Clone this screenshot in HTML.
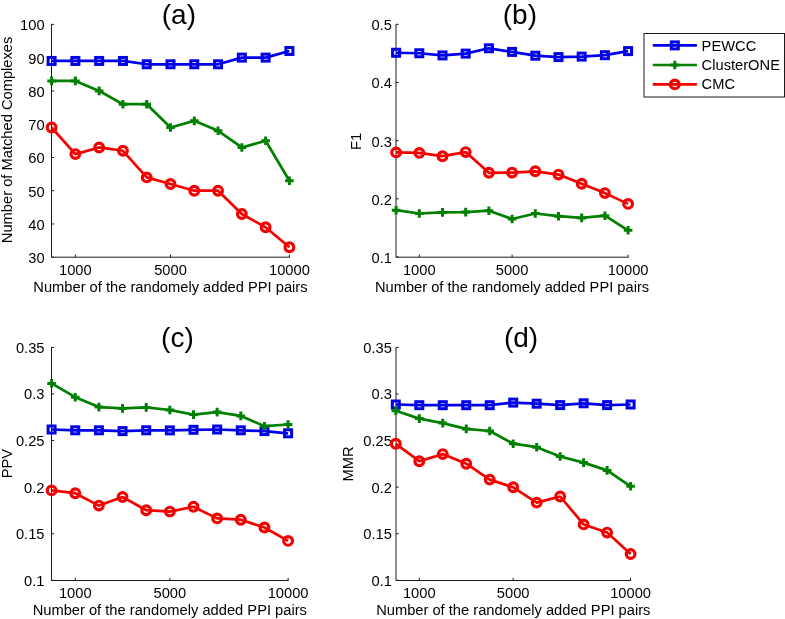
<!DOCTYPE html>
<html><head><meta charset="utf-8"><style>
html,body{margin:0;padding:0;background:#fff;}
svg{display:block;will-change:transform;}
text{font-family:"Liberation Sans",sans-serif;font-size:14.7px;fill:#000;}
</style></head><body>
<svg width="785" height="619" viewBox="0 0 785 619">
<path d="M51.5 24.35V257.2H289.9" fill="none" stroke="#1a1a1a" stroke-width="1"/>
<path d="M51.5 257.25h2.6 M51.5 223.98h2.6 M51.5 190.71h2.6 M51.5 157.44h2.6 M51.5 124.16h2.6 M51.5 90.89h2.6 M51.5 57.62h2.6 M51.5 24.35h2.6 M75.38 257.2v-2.6 M170.5 257.2v-2.6 M289.4 257.2v-2.6" stroke="#1a1a1a" stroke-width="1" fill="none"/>
<text x="44.6" y="263.25" text-anchor="end">30</text>
<text x="44.6" y="229.98" text-anchor="end">40</text>
<text x="44.6" y="196.71" text-anchor="end">50</text>
<text x="44.6" y="163.44" text-anchor="end">60</text>
<text x="44.6" y="130.16" text-anchor="end">70</text>
<text x="44.6" y="96.89" text-anchor="end">80</text>
<text x="44.6" y="63.62" text-anchor="end">90</text>
<text x="44.6" y="30.35" text-anchor="end">100</text>
<text x="75.38" y="274.7" text-anchor="middle">1000</text>
<text x="170.5" y="274.7" text-anchor="middle">5000</text>
<text x="289.4" y="274.7" text-anchor="middle">10000</text>
<text x="170.45" y="292.1" text-anchor="middle">Number of the randomely added PPI pairs</text>
<text transform="translate(12.3 139.9) rotate(-90)" text-anchor="middle">Number of Matched Complexes</text>
<text x="178.9" y="24" text-anchor="middle" style="font-size:28px">(a)</text>
<polyline points="51.6,60.95 75.38,60.95 99.16,60.95 122.94,60.95 146.72,64.28 170.5,64.28 194.28,64.28 218.06,64.28 241.84,57.62 265.62,57.62 289.4,50.97" fill="none" stroke="#0000ea" stroke-width="2.7" stroke-linejoin="round"/>
<rect x="48.1" y="57.45" width="7" height="7" fill="none" stroke="#0000ea" stroke-width="3"/><rect x="71.88" y="57.45" width="7" height="7" fill="none" stroke="#0000ea" stroke-width="3"/><rect x="95.66" y="57.45" width="7" height="7" fill="none" stroke="#0000ea" stroke-width="3"/><rect x="119.44" y="57.45" width="7" height="7" fill="none" stroke="#0000ea" stroke-width="3"/><rect x="143.22" y="60.78" width="7" height="7" fill="none" stroke="#0000ea" stroke-width="3"/><rect x="167" y="60.78" width="7" height="7" fill="none" stroke="#0000ea" stroke-width="3"/><rect x="190.78" y="60.78" width="7" height="7" fill="none" stroke="#0000ea" stroke-width="3"/><rect x="214.56" y="60.78" width="7" height="7" fill="none" stroke="#0000ea" stroke-width="3"/><rect x="238.34" y="54.12" width="7" height="7" fill="none" stroke="#0000ea" stroke-width="3"/><rect x="262.12" y="54.12" width="7" height="7" fill="none" stroke="#0000ea" stroke-width="3"/><rect x="285.9" y="47.47" width="7" height="7" fill="none" stroke="#0000ea" stroke-width="3"/>
<polyline points="51.6,80.91 75.38,80.91 99.16,90.89 122.94,104.2 146.72,104.2 170.5,127.49 194.28,120.84 218.06,130.82 241.84,147.45 265.62,140.8 289.4,180.73" fill="none" stroke="#008000" stroke-width="2.7" stroke-linejoin="round"/>
<path d="M47.3 80.91H55.9M51.6 76.61V85.21" stroke="#008000" stroke-width="3" fill="none"/><path d="M71.08 80.91H79.68M75.38 76.61V85.21" stroke="#008000" stroke-width="3" fill="none"/><path d="M94.86 90.89H103.46M99.16 86.59V95.19" stroke="#008000" stroke-width="3" fill="none"/><path d="M118.64 104.2H127.24M122.94 99.9V108.5" stroke="#008000" stroke-width="3" fill="none"/><path d="M142.42 104.2H151.02M146.72 99.9V108.5" stroke="#008000" stroke-width="3" fill="none"/><path d="M166.2 127.49H174.8M170.5 123.19V131.79" stroke="#008000" stroke-width="3" fill="none"/><path d="M189.98 120.84H198.58M194.28 116.54V125.14" stroke="#008000" stroke-width="3" fill="none"/><path d="M213.76 130.82H222.36M218.06 126.52V135.12" stroke="#008000" stroke-width="3" fill="none"/><path d="M237.54 147.45H246.14M241.84 143.15V151.75" stroke="#008000" stroke-width="3" fill="none"/><path d="M261.32 140.8H269.92M265.62 136.5V145.1" stroke="#008000" stroke-width="3" fill="none"/><path d="M285.1 180.73H293.7M289.4 176.43V185.03" stroke="#008000" stroke-width="3" fill="none"/>
<polyline points="51.6,127.49 75.38,154.11 99.16,147.45 122.94,150.78 146.72,177.4 170.5,184.05 194.28,190.71 218.06,190.71 241.84,214 265.62,227.31 289.4,247.27" fill="none" stroke="#f40000" stroke-width="2.7" stroke-linejoin="round"/>
<circle cx="51.6" cy="127.49" r="4.35" fill="none" stroke="#f40000" stroke-width="3.2"/><circle cx="75.38" cy="154.11" r="4.35" fill="none" stroke="#f40000" stroke-width="3.2"/><circle cx="99.16" cy="147.45" r="4.35" fill="none" stroke="#f40000" stroke-width="3.2"/><circle cx="122.94" cy="150.78" r="4.35" fill="none" stroke="#f40000" stroke-width="3.2"/><circle cx="146.72" cy="177.4" r="4.35" fill="none" stroke="#f40000" stroke-width="3.2"/><circle cx="170.5" cy="184.05" r="4.35" fill="none" stroke="#f40000" stroke-width="3.2"/><circle cx="194.28" cy="190.71" r="4.35" fill="none" stroke="#f40000" stroke-width="3.2"/><circle cx="218.06" cy="190.71" r="4.35" fill="none" stroke="#f40000" stroke-width="3.2"/><circle cx="241.84" cy="214" r="4.35" fill="none" stroke="#f40000" stroke-width="3.2"/><circle cx="265.62" cy="227.31" r="4.35" fill="none" stroke="#f40000" stroke-width="3.2"/><circle cx="289.4" cy="247.27" r="4.35" fill="none" stroke="#f40000" stroke-width="3.2"/>
<path d="M396 24.3V257.2H628.6" fill="none" stroke="#1a1a1a" stroke-width="1"/>
<path d="M396 257h2.6 M396 198.82h2.6 M396 140.65h2.6 M396 82.47h2.6 M396 24.3h2.6 M419.3 257.2v-2.6 M512.1 257.2v-2.6 M628.1 257.2v-2.6" stroke="#1a1a1a" stroke-width="1" fill="none"/>
<text x="391.9" y="263" text-anchor="end">0.1</text>
<text x="391.9" y="204.82" text-anchor="end">0.2</text>
<text x="391.9" y="146.65" text-anchor="end">0.3</text>
<text x="391.9" y="88.47" text-anchor="end">0.4</text>
<text x="391.9" y="30.3" text-anchor="end">0.5</text>
<text x="419.3" y="274.7" text-anchor="middle">1000</text>
<text x="512.1" y="274.7" text-anchor="middle">5000</text>
<text x="628.1" y="274.7" text-anchor="middle">10000</text>
<text x="512.05" y="292.1" text-anchor="middle">Number of the randomely added PPI pairs</text>
<text transform="translate(361 141.5) rotate(-90)" text-anchor="middle">F1</text>
<text x="519.9" y="23.9" text-anchor="middle" style="font-size:28px">(b)</text>
<polyline points="396.1,52.75 419.3,53.25 442.5,55.4 465.7,53.6 488.9,48.3 512.1,51.9 535.3,55.7 558.5,57.1 581.7,56.6 604.9,55.2 628.1,51.1" fill="none" stroke="#0000ea" stroke-width="2.7" stroke-linejoin="round"/>
<rect x="392.6" y="49.25" width="7" height="7" fill="none" stroke="#0000ea" stroke-width="3"/><rect x="415.8" y="49.75" width="7" height="7" fill="none" stroke="#0000ea" stroke-width="3"/><rect x="439" y="51.9" width="7" height="7" fill="none" stroke="#0000ea" stroke-width="3"/><rect x="462.2" y="50.1" width="7" height="7" fill="none" stroke="#0000ea" stroke-width="3"/><rect x="485.4" y="44.8" width="7" height="7" fill="none" stroke="#0000ea" stroke-width="3"/><rect x="508.6" y="48.4" width="7" height="7" fill="none" stroke="#0000ea" stroke-width="3"/><rect x="531.8" y="52.2" width="7" height="7" fill="none" stroke="#0000ea" stroke-width="3"/><rect x="555" y="53.6" width="7" height="7" fill="none" stroke="#0000ea" stroke-width="3"/><rect x="578.2" y="53.1" width="7" height="7" fill="none" stroke="#0000ea" stroke-width="3"/><rect x="601.4" y="51.7" width="7" height="7" fill="none" stroke="#0000ea" stroke-width="3"/><rect x="624.6" y="47.6" width="7" height="7" fill="none" stroke="#0000ea" stroke-width="3"/>
<polyline points="396.1,210.2 419.3,213.5 442.5,212.4 465.7,212.1 488.9,210.7 512.1,219 535.3,213.5 558.5,216.2 581.7,217.9 604.9,215.7 628.1,230.3" fill="none" stroke="#008000" stroke-width="2.7" stroke-linejoin="round"/>
<path d="M391.8 210.2H400.4M396.1 205.9V214.5" stroke="#008000" stroke-width="3" fill="none"/><path d="M415 213.5H423.6M419.3 209.2V217.8" stroke="#008000" stroke-width="3" fill="none"/><path d="M438.2 212.4H446.8M442.5 208.1V216.7" stroke="#008000" stroke-width="3" fill="none"/><path d="M461.4 212.1H470M465.7 207.8V216.4" stroke="#008000" stroke-width="3" fill="none"/><path d="M484.6 210.7H493.2M488.9 206.4V215" stroke="#008000" stroke-width="3" fill="none"/><path d="M507.8 219H516.4M512.1 214.7V223.3" stroke="#008000" stroke-width="3" fill="none"/><path d="M531 213.5H539.6M535.3 209.2V217.8" stroke="#008000" stroke-width="3" fill="none"/><path d="M554.2 216.2H562.8M558.5 211.9V220.5" stroke="#008000" stroke-width="3" fill="none"/><path d="M577.4 217.9H586M581.7 213.6V222.2" stroke="#008000" stroke-width="3" fill="none"/><path d="M600.6 215.7H609.2M604.9 211.4V220" stroke="#008000" stroke-width="3" fill="none"/><path d="M623.8 230.3H632.4M628.1 226V234.6" stroke="#008000" stroke-width="3" fill="none"/>
<polyline points="396.1,152.4 419.3,152.9 442.5,156.2 465.7,152.1 488.9,172.8 512.1,172.6 535.3,171.3 558.5,174.6 581.7,183.7 604.9,193.1 628.1,203.9" fill="none" stroke="#f40000" stroke-width="2.7" stroke-linejoin="round"/>
<circle cx="396.1" cy="152.4" r="4.35" fill="none" stroke="#f40000" stroke-width="3.2"/><circle cx="419.3" cy="152.9" r="4.35" fill="none" stroke="#f40000" stroke-width="3.2"/><circle cx="442.5" cy="156.2" r="4.35" fill="none" stroke="#f40000" stroke-width="3.2"/><circle cx="465.7" cy="152.1" r="4.35" fill="none" stroke="#f40000" stroke-width="3.2"/><circle cx="488.9" cy="172.8" r="4.35" fill="none" stroke="#f40000" stroke-width="3.2"/><circle cx="512.1" cy="172.6" r="4.35" fill="none" stroke="#f40000" stroke-width="3.2"/><circle cx="535.3" cy="171.3" r="4.35" fill="none" stroke="#f40000" stroke-width="3.2"/><circle cx="558.5" cy="174.6" r="4.35" fill="none" stroke="#f40000" stroke-width="3.2"/><circle cx="581.7" cy="183.7" r="4.35" fill="none" stroke="#f40000" stroke-width="3.2"/><circle cx="604.9" cy="193.1" r="4.35" fill="none" stroke="#f40000" stroke-width="3.2"/><circle cx="628.1" cy="203.9" r="4.35" fill="none" stroke="#f40000" stroke-width="3.2"/>
<path d="M51.5 347.4V580.5H288.6" fill="none" stroke="#1a1a1a" stroke-width="1"/>
<path d="M51.5 580.3h2.6 M51.5 533.72h2.6 M51.5 487.14h2.6 M51.5 440.56h2.6 M51.5 393.98h2.6 M51.5 347.4h2.6 M75.25 580.5v-2.6 M169.85 580.5v-2.6 M288.1 580.5v-2.6" stroke="#1a1a1a" stroke-width="1" fill="none"/>
<text x="44.5" y="585.7" text-anchor="end">0.1</text>
<text x="44.5" y="539.12" text-anchor="end">0.15</text>
<text x="44.5" y="492.54" text-anchor="end">0.2</text>
<text x="44.5" y="445.96" text-anchor="end">0.25</text>
<text x="44.5" y="399.38" text-anchor="end">0.3</text>
<text x="44.5" y="352.8" text-anchor="end">0.35</text>
<text x="75.25" y="598" text-anchor="middle">1000</text>
<text x="169.85" y="598" text-anchor="middle">5000</text>
<text x="288.1" y="598" text-anchor="middle">10000</text>
<text x="169.8" y="615.4" text-anchor="middle">Number of the randomely added PPI pairs</text>
<text transform="translate(12.1 463.6) rotate(-90)" text-anchor="middle">PPV</text>
<text x="177.4" y="347.3" text-anchor="middle" style="font-size:28px">(c)</text>
<polyline points="51.6,429.5 75.25,430.3 98.9,430.3 122.55,431.1 146.2,430.3 169.85,430.4 193.5,429.8 217.15,429.5 240.8,430.3 264.45,431.1 288.1,433.3" fill="none" stroke="#0000ea" stroke-width="2.7" stroke-linejoin="round"/>
<rect x="48.1" y="426" width="7" height="7" fill="none" stroke="#0000ea" stroke-width="3"/><rect x="71.75" y="426.8" width="7" height="7" fill="none" stroke="#0000ea" stroke-width="3"/><rect x="95.4" y="426.8" width="7" height="7" fill="none" stroke="#0000ea" stroke-width="3"/><rect x="119.05" y="427.6" width="7" height="7" fill="none" stroke="#0000ea" stroke-width="3"/><rect x="142.7" y="426.8" width="7" height="7" fill="none" stroke="#0000ea" stroke-width="3"/><rect x="166.35" y="426.9" width="7" height="7" fill="none" stroke="#0000ea" stroke-width="3"/><rect x="190" y="426.3" width="7" height="7" fill="none" stroke="#0000ea" stroke-width="3"/><rect x="213.65" y="426" width="7" height="7" fill="none" stroke="#0000ea" stroke-width="3"/><rect x="237.3" y="426.8" width="7" height="7" fill="none" stroke="#0000ea" stroke-width="3"/><rect x="260.95" y="427.6" width="7" height="7" fill="none" stroke="#0000ea" stroke-width="3"/><rect x="284.6" y="429.8" width="7" height="7" fill="none" stroke="#0000ea" stroke-width="3"/>
<polyline points="51.6,383.4 75.25,397.2 98.9,407.1 122.55,408.4 146.2,407.4 169.85,410 193.5,414.6 217.15,412.1 240.8,415.9 264.45,426.2 288.1,424.5" fill="none" stroke="#008000" stroke-width="2.7" stroke-linejoin="round"/>
<path d="M47.3 383.4H55.9M51.6 379.1V387.7" stroke="#008000" stroke-width="3" fill="none"/><path d="M70.95 397.2H79.55M75.25 392.9V401.5" stroke="#008000" stroke-width="3" fill="none"/><path d="M94.6 407.1H103.2M98.9 402.8V411.4" stroke="#008000" stroke-width="3" fill="none"/><path d="M118.25 408.4H126.85M122.55 404.1V412.7" stroke="#008000" stroke-width="3" fill="none"/><path d="M141.9 407.4H150.5M146.2 403.1V411.7" stroke="#008000" stroke-width="3" fill="none"/><path d="M165.55 410H174.15M169.85 405.7V414.3" stroke="#008000" stroke-width="3" fill="none"/><path d="M189.2 414.6H197.8M193.5 410.3V418.9" stroke="#008000" stroke-width="3" fill="none"/><path d="M212.85 412.1H221.45M217.15 407.8V416.4" stroke="#008000" stroke-width="3" fill="none"/><path d="M236.5 415.9H245.1M240.8 411.6V420.2" stroke="#008000" stroke-width="3" fill="none"/><path d="M260.15 426.2H268.75M264.45 421.9V430.5" stroke="#008000" stroke-width="3" fill="none"/><path d="M283.8 424.5H292.4M288.1 420.2V428.8" stroke="#008000" stroke-width="3" fill="none"/>
<polyline points="51.6,490.4 75.25,493.2 98.9,505.6 122.55,497 146.2,510.2 169.85,511.6 193.5,506.8 217.15,518.4 240.8,519.7 264.45,527.5 288.1,540.9" fill="none" stroke="#f40000" stroke-width="2.7" stroke-linejoin="round"/>
<circle cx="51.6" cy="490.4" r="4.35" fill="none" stroke="#f40000" stroke-width="3.2"/><circle cx="75.25" cy="493.2" r="4.35" fill="none" stroke="#f40000" stroke-width="3.2"/><circle cx="98.9" cy="505.6" r="4.35" fill="none" stroke="#f40000" stroke-width="3.2"/><circle cx="122.55" cy="497" r="4.35" fill="none" stroke="#f40000" stroke-width="3.2"/><circle cx="146.2" cy="510.2" r="4.35" fill="none" stroke="#f40000" stroke-width="3.2"/><circle cx="169.85" cy="511.6" r="4.35" fill="none" stroke="#f40000" stroke-width="3.2"/><circle cx="193.5" cy="506.8" r="4.35" fill="none" stroke="#f40000" stroke-width="3.2"/><circle cx="217.15" cy="518.4" r="4.35" fill="none" stroke="#f40000" stroke-width="3.2"/><circle cx="240.8" cy="519.7" r="4.35" fill="none" stroke="#f40000" stroke-width="3.2"/><circle cx="264.45" cy="527.5" r="4.35" fill="none" stroke="#f40000" stroke-width="3.2"/><circle cx="288.1" cy="540.9" r="4.35" fill="none" stroke="#f40000" stroke-width="3.2"/>
<path d="M396 347.4V580.5H631.1" fill="none" stroke="#1a1a1a" stroke-width="1"/>
<path d="M396 580.3h2.6 M396 533.72h2.6 M396 487.14h2.6 M396 440.56h2.6 M396 393.98h2.6 M396 347.4h2.6 M419.28 580.5v-2.6 M513.2 580.5v-2.6 M630.6 580.5v-2.6" stroke="#1a1a1a" stroke-width="1" fill="none"/>
<text x="391.9" y="585.7" text-anchor="end">0.1</text>
<text x="391.9" y="539.12" text-anchor="end">0.15</text>
<text x="391.9" y="492.54" text-anchor="end">0.2</text>
<text x="391.9" y="445.96" text-anchor="end">0.25</text>
<text x="391.9" y="399.38" text-anchor="end">0.3</text>
<text x="391.9" y="352.8" text-anchor="end">0.35</text>
<text x="419.28" y="598" text-anchor="middle">1000</text>
<text x="513.2" y="598" text-anchor="middle">5000</text>
<text x="630.6" y="598" text-anchor="middle">10000</text>
<text x="513.3" y="615.4" text-anchor="middle">Number of the randomely added PPI pairs</text>
<text transform="translate(353 464) rotate(-90)" text-anchor="middle">MMR</text>
<text x="521.1" y="347.3" text-anchor="middle" style="font-size:28px">(d)</text>
<polyline points="395.8,404.5 419.28,405.2 442.76,405.2 466.24,405.2 489.72,405.2 513.2,402.6 536.68,403.7 560.16,405.1 583.64,403.3 607.12,405.1 630.6,404.5" fill="none" stroke="#0000ea" stroke-width="2.7" stroke-linejoin="round"/>
<rect x="392.3" y="401" width="7" height="7" fill="none" stroke="#0000ea" stroke-width="3"/><rect x="415.78" y="401.7" width="7" height="7" fill="none" stroke="#0000ea" stroke-width="3"/><rect x="439.26" y="401.7" width="7" height="7" fill="none" stroke="#0000ea" stroke-width="3"/><rect x="462.74" y="401.7" width="7" height="7" fill="none" stroke="#0000ea" stroke-width="3"/><rect x="486.22" y="401.7" width="7" height="7" fill="none" stroke="#0000ea" stroke-width="3"/><rect x="509.7" y="399.1" width="7" height="7" fill="none" stroke="#0000ea" stroke-width="3"/><rect x="533.18" y="400.2" width="7" height="7" fill="none" stroke="#0000ea" stroke-width="3"/><rect x="556.66" y="401.6" width="7" height="7" fill="none" stroke="#0000ea" stroke-width="3"/><rect x="580.14" y="399.8" width="7" height="7" fill="none" stroke="#0000ea" stroke-width="3"/><rect x="603.62" y="401.6" width="7" height="7" fill="none" stroke="#0000ea" stroke-width="3"/><rect x="627.1" y="401" width="7" height="7" fill="none" stroke="#0000ea" stroke-width="3"/>
<polyline points="395.8,410.7 419.28,418.6 442.76,423.1 466.24,428.9 489.72,431 513.2,443.7 536.68,447.2 560.16,456.5 583.64,462.6 607.12,470.4 630.6,486.3" fill="none" stroke="#008000" stroke-width="2.7" stroke-linejoin="round"/>
<path d="M391.5 410.7H400.1M395.8 406.4V415" stroke="#008000" stroke-width="3" fill="none"/><path d="M414.98 418.6H423.58M419.28 414.3V422.9" stroke="#008000" stroke-width="3" fill="none"/><path d="M438.46 423.1H447.06M442.76 418.8V427.4" stroke="#008000" stroke-width="3" fill="none"/><path d="M461.94 428.9H470.54M466.24 424.6V433.2" stroke="#008000" stroke-width="3" fill="none"/><path d="M485.42 431H494.02M489.72 426.7V435.3" stroke="#008000" stroke-width="3" fill="none"/><path d="M508.9 443.7H517.5M513.2 439.4V448" stroke="#008000" stroke-width="3" fill="none"/><path d="M532.38 447.2H540.98M536.68 442.9V451.5" stroke="#008000" stroke-width="3" fill="none"/><path d="M555.86 456.5H564.46M560.16 452.2V460.8" stroke="#008000" stroke-width="3" fill="none"/><path d="M579.34 462.6H587.94M583.64 458.3V466.9" stroke="#008000" stroke-width="3" fill="none"/><path d="M602.82 470.4H611.42M607.12 466.1V474.7" stroke="#008000" stroke-width="3" fill="none"/><path d="M626.3 486.3H634.9M630.6 482V490.6" stroke="#008000" stroke-width="3" fill="none"/>
<polyline points="395.8,443.8 419.28,461.2 442.76,454.1 466.24,463.7 489.72,479.6 513.2,487.3 536.68,502.6 560.16,496.5 583.64,524.4 607.12,532.6 630.6,554" fill="none" stroke="#f40000" stroke-width="2.7" stroke-linejoin="round"/>
<circle cx="395.8" cy="443.8" r="4.35" fill="none" stroke="#f40000" stroke-width="3.2"/><circle cx="419.28" cy="461.2" r="4.35" fill="none" stroke="#f40000" stroke-width="3.2"/><circle cx="442.76" cy="454.1" r="4.35" fill="none" stroke="#f40000" stroke-width="3.2"/><circle cx="466.24" cy="463.7" r="4.35" fill="none" stroke="#f40000" stroke-width="3.2"/><circle cx="489.72" cy="479.6" r="4.35" fill="none" stroke="#f40000" stroke-width="3.2"/><circle cx="513.2" cy="487.3" r="4.35" fill="none" stroke="#f40000" stroke-width="3.2"/><circle cx="536.68" cy="502.6" r="4.35" fill="none" stroke="#f40000" stroke-width="3.2"/><circle cx="560.16" cy="496.5" r="4.35" fill="none" stroke="#f40000" stroke-width="3.2"/><circle cx="583.64" cy="524.4" r="4.35" fill="none" stroke="#f40000" stroke-width="3.2"/><circle cx="607.12" cy="532.6" r="4.35" fill="none" stroke="#f40000" stroke-width="3.2"/><circle cx="630.6" cy="554" r="4.35" fill="none" stroke="#f40000" stroke-width="3.2"/>
<rect x="644" y="33.5" width="140.5" height="63.5" fill="#fff" stroke="#1a1a1a" stroke-width="1"/>
<path d="M652.8 45.4H696.9" stroke="#0000ea" stroke-width="2.7"/>
<rect x="671.3" y="41.9" width="7" height="7" fill="none" stroke="#0000ea" stroke-width="3"/>
<text x="701.6" y="50.7">PEWCC</text>
<path d="M652.8 65H696.9" stroke="#008000" stroke-width="2.7"/>
<path d="M670.5 65H679.1M674.8 60.7V69.3" stroke="#008000" stroke-width="3" fill="none"/>
<text x="701.6" y="69.9">ClusterONE</text>
<path d="M652.8 84.4H696.9" stroke="#f40000" stroke-width="2.7"/>
<circle cx="674.8" cy="84.4" r="4.35" fill="none" stroke="#f40000" stroke-width="3.2"/>
<text x="701.6" y="89.4">CMC</text>
</svg>
</body></html>
